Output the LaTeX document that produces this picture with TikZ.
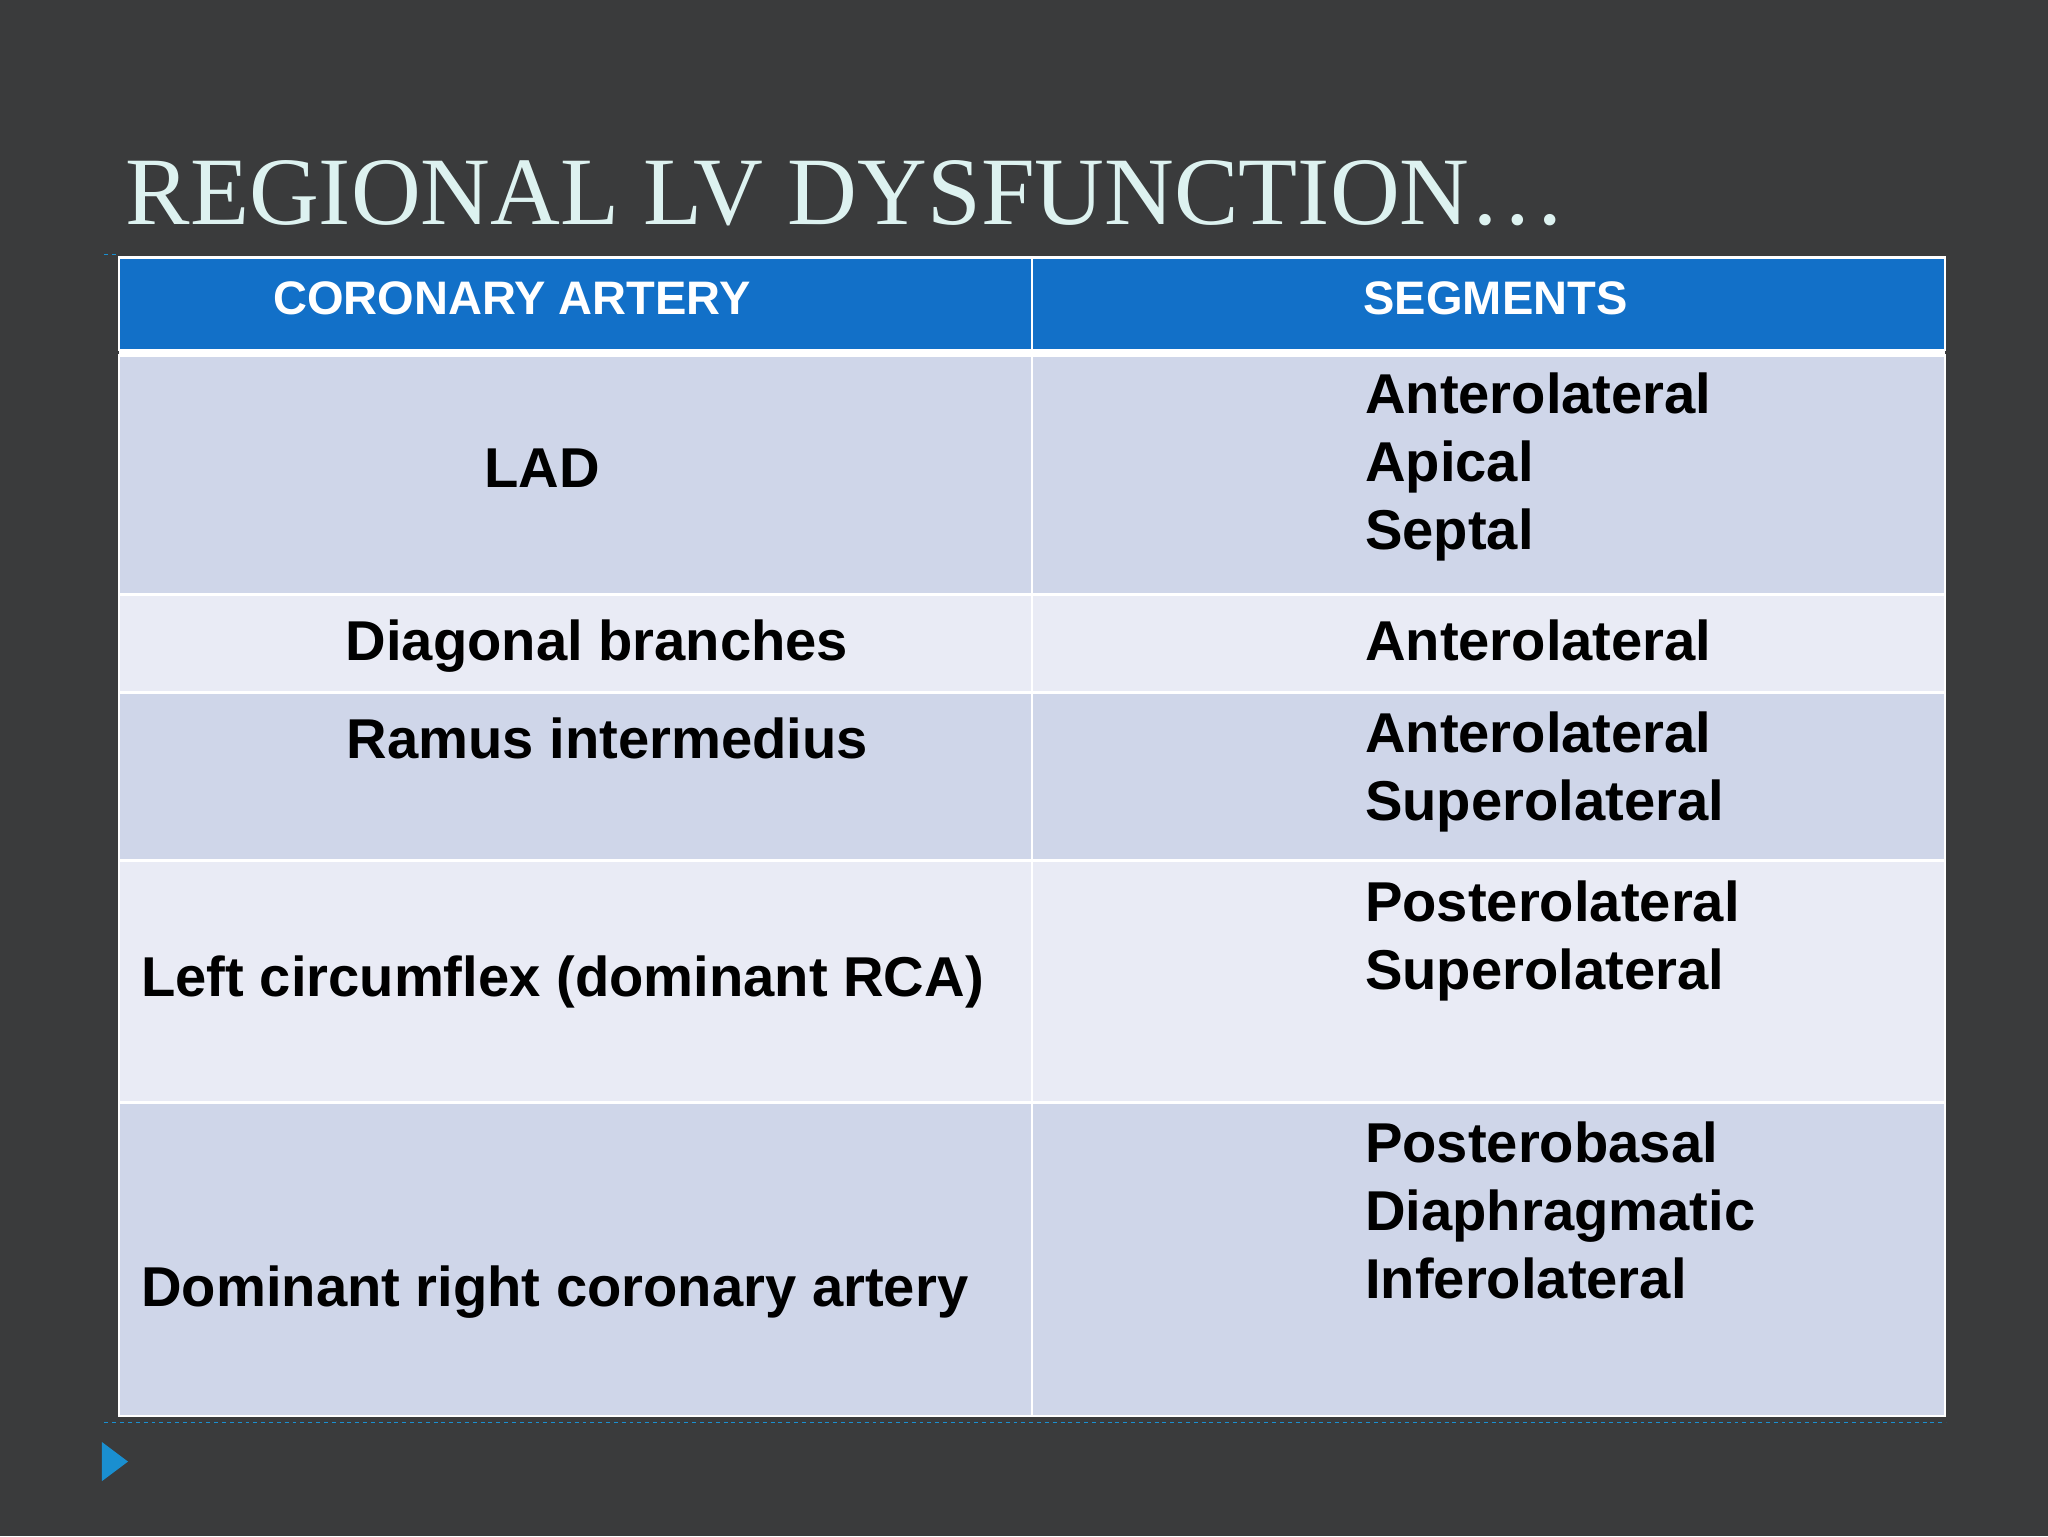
\documentclass[tikz,border=0pt]{standalone}
\usepackage{fontspec}
\setmainfont{Liberation Sans}
\newfontfamily\titlefont{Liberation Serif}
\begin{document}
\begin{tikzpicture}[x=1pt,y=-1pt,
  hdr/.style={font=\fontsize{36}{40}\selectfont\bfseries,text=white},
  cell/.style={font=\fontsize{43}{52}\selectfont\bfseries,text=black,align=left},
  dark/.style={fill=rowdark,draw=white,line width=2pt},
  light/.style={fill=rowlight,draw=white,line width=2pt}]
\definecolor{bg}{HTML}{3A3B3C}
\definecolor{hblue}{HTML}{1270C8}
\definecolor{rowdark}{HTML}{CFD6E9}
\definecolor{rowlight}{HTML}{E9EBF5}
\definecolor{ttl}{HTML}{DDF2F0}
\definecolor{acc}{HTML}{1A8FD0}
\fill[bg] (0,0) rectangle (1568,1176);
\useasboundingbox (0,0) rectangle (1568,1176);
\node[anchor=base west,font=\titlefont\fontsize{74}{80}\selectfont,text=ttl,inner sep=0] (title) at (96,172) {REGIONAL LV DYSFUNCTION…};
% header
\fill[hblue] (91,197) rectangle (1489,268);
\draw[white,line width=2pt] (91,197) rectangle (1489,268) (790,197) -- (790,268);
\draw[white,line width=4pt] (91,270) -- (1489,270);
% rows
\draw[dark] (91,272) rectangle (790,455); \draw[dark] (790,272) rectangle (1489,455);
\draw[light] (91,455) rectangle (790,530); \draw[light] (790,455) rectangle (1489,530);
\draw[dark] (91,530) rectangle (790,659); \draw[dark] (790,530) rectangle (1489,659);
\draw[light] (91,659) rectangle (790,844); \draw[light] (790,659) rectangle (1489,844);
\draw[dark] (91,844) rectangle (790,1084); \draw[dark] (790,844) rectangle (1489,1084);
\draw[acc,dashed,line width=1.2pt] (80,1089) -- (1490,1089);
\draw[acc,dashed,line width=1.2pt] (80,195) -- (91,195);
\fill[acc] (78,1104) -- (98,1119) -- (78,1134) -- cycle;
% header text
\node[hdr,anchor=base] (h1) at (392,241) {CORONARY ARTERY};
\node[hdr,anchor=base] (h2) at (1145,241) {SEGMENTS};
% cells
\node[cell,anchor=base] (a1) at (415,373) {LAD};
\node[cell,anchor=base] (a2) at (457,506) {Diagonal branches};
\node[cell,anchor=base] (a3) at (465,581) {Ramus intermedius};
\node[cell,anchor=base west,inner sep=0] (a4) at (108,763) {Left circumflex (dominant RCA)};
\node[cell,anchor=base west,inner sep=0] (a5) at (108,1000) {Dominant right coronary artery};
\node[cell,anchor=north west,inner sep=0] (b1) at (1045,285) {Anterolateral\\Apical\\Septal};
\node[cell,anchor=base west,inner sep=0] (b2) at (1045,506) {Anterolateral};
\node[cell,anchor=north west,inner sep=0] (b3) at (1045,545) {Anterolateral\\Superolateral};
\node[cell,anchor=north west,inner sep=0] (b4) at (1045,674) {Posterolateral\\Superolateral};
\node[cell,anchor=north west,inner sep=0] (b5) at (1045,859) {Posterobasal\\Diaphragmatic\\Inferolateral};
\end{tikzpicture}
\end{document}
